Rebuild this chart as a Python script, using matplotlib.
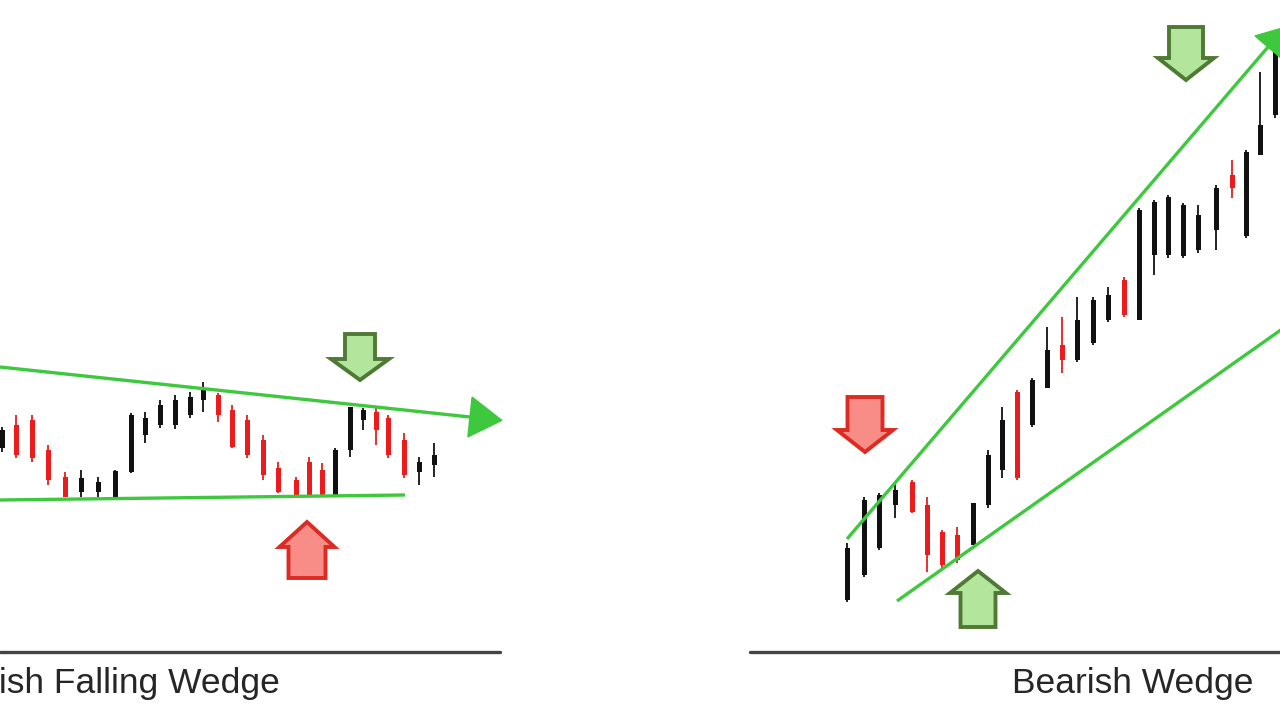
import matplotlib as mpl
mpl.use('Agg')

import numpy as np
import matplotlib.pyplot as plt
from matplotlib.patches import Polygon

# screen-like coordinates (y grows downwards), 1280 x 720 canvas

# left panel candles: x, wick top, wick bottom, body top, body bottom, colour
left_x = [2, 16, 32, 48, 65, 81, 98, 115, 131, 145, 160, 175, 190, 203, 218,
          232, 247, 263, 278, 296, 309, 322, 335, 350, 363, 376, 388, 404, 419, 434]
left_hi = [427, 415, 415, 445, 472, 470, 477, 470, 413, 412, 400, 395, 392, 382, 393,
           405, 415, 435, 462, 477, 457, 463, 448, 407, 408, 408, 415, 433, 457, 443]
left_lo = [452, 458, 462, 485, 497, 497, 497, 497, 473, 443, 428, 429, 418, 412, 422,
           448, 458, 480, 493, 497, 497, 497, 495, 457, 430, 445, 458, 478, 485, 477]
left_btop = [430, 425, 420, 450, 477, 478, 482, 471, 415, 418, 405, 400, 397, 390, 395,
             410, 420, 440, 468, 480, 462, 470, 450, 407, 410, 412, 418, 440, 462, 455]
left_bbot = [448, 455, 458, 480, 497, 492, 492, 497, 472, 435, 425, 425, 415, 400, 415,
             447, 455, 475, 492, 495, 495, 497, 495, 450, 420, 430, 455, 475, 472, 465]
left_col = list('krrrrkkkkkkkkkrrrrrrrrkkkrrrkk')

# right panel candles
right_x = [847, 864, 879, 895, 912, 927, 942, 957, 973, 988, 1002, 1017, 1032, 1047, 1062,
           1077, 1093, 1108, 1124, 1139, 1154, 1168, 1183, 1198, 1216, 1232, 1246, 1260, 1275]
right_hi = [543, 497, 493, 482, 480, 497, 530, 527, 503, 450, 407, 390, 378, 327, 317,
            297, 297, 287, 277, 208, 200, 195, 203, 205, 185, 160, 150, 72, 47]
right_lo = [602, 577, 550, 518, 513, 572, 570, 563, 545, 508, 478, 480, 427, 388, 373,
            362, 345, 322, 317, 320, 275, 258, 258, 253, 250, 198, 238, 155, 118]
right_btop = [548, 500, 495, 490, 482, 505, 532, 535, 503, 455, 420, 392, 380, 350, 345,
              320, 300, 295, 280, 210, 202, 197, 205, 215, 188, 175, 152, 125, 50]
right_bbot = [600, 575, 548, 505, 512, 555, 565, 560, 545, 505, 470, 478, 425, 388, 360,
              360, 343, 320, 315, 320, 255, 255, 256, 250, 230, 188, 236, 155, 115]
right_col = list('kkkkrrrrkkkrkkrkkkrkkkkkkrkkk')

# trend lines (start, end)
left_upper = [(0, 367), (470, 417)]
left_lower = [(0, 500), (405, 495)]
right_upper = [(847, 539), (1268, 47)]
right_lower = [(897, 601), (1285, 327)]

# signal arrows: centre x, tail y, tip y, shaft width, head width, head length, kind
arrows = [
    (360, 334, 380, 30, 58, 21, 'green'),
    (307, 578, 522, 37, 55, 25, 'red'),
    (865, 397, 452, 35, 56, 22, 'red'),
    (978, 627, 571, 35, 56, 22, 'green'),
    (1186, 27, 80, 34, 56, 22, 'green'),
]

titles = ['Bullish Falling Wedge', 'Bearish Wedge']

GREEN = '#3ec83e'
CANDLE = {'k': '#111111', 'r': '#ec1c1c'}
ARROW_STYLE = {'green': ('#b3e59c', '#4f7a35'), 'red': ('#f78d86', '#dd2a22')}


def draw_candles(ax, xs, hi, lo, btop, bbot, cols):
    for x, h, l, bt, bb, c in zip(xs, hi, lo, btop, bbot, cols):
        ax.vlines(x, h, l, color=CANDLE[c], lw=1.3)
        ax.bar(x, bb - bt, bottom=bt, width=5, color=CANDLE[c], lw=0)


def draw_arrow(ax, cx, tail, tip, shaft_w, head_w, head_len, kind):
    d = np.sign(tip - tail)
    base = tip - d * head_len
    pts = [(cx - shaft_w / 2, tail), (cx + shaft_w / 2, tail),
           (cx + shaft_w / 2, base), (cx + head_w / 2, base),
           (cx, tip), (cx - head_w / 2, base), (cx - shaft_w / 2, base)]
    fill, edge = ARROW_STYLE[kind]
    ax.add_patch(Polygon(pts, closed=True, facecolor=fill, edgecolor=edge,
                         lw=2.8, joinstyle='miter', zorder=5))


def trend(ax, seg, head=None):
    (x0, y0), (x1, y1) = seg
    ax.plot([x0, x1], [y0, y1], color=GREEN, lw=2.4, solid_capstyle='butt', zorder=4)
    if head:
        L, W = head
        v = np.array([x1 - x0, y1 - y0], float)
        v /= np.linalg.norm(v)
        n = np.array([-v[1], v[0]])
        p = np.array([x1, y1], float)
        tipp = p + v * L
        tri = [p + n * W / 2, tipp, p - n * W / 2]
        ax.add_patch(Polygon(tri, closed=True, facecolor=GREEN, edgecolor=GREEN,
                             lw=1, zorder=4))


fig = plt.figure(figsize=(12.8, 7.2), dpi=100)
ax = fig.add_axes([0, 0, 1, 1])
ax.set_xlim(0, 1280)
ax.set_ylim(720, 0)
ax.axis('off')

draw_candles(ax, left_x, left_hi, left_lo, left_btop, left_bbot, left_col)
draw_candles(ax, right_x, right_hi, right_lo, right_btop, right_bbot, right_col)

trend(ax, left_upper, head=(32, 40))
trend(ax, left_lower)
trend(ax, right_upper, head=(26, 34))
trend(ax, right_lower)

for a in arrows:
    draw_arrow(ax, *a)

# base lines and captions
ax.plot([0, 500], [652, 652], color='#444444', lw=2.4, solid_capstyle='round')
ax.plot([750, 1280], [652, 652], color='#444444', lw=2.4, solid_capstyle='round')

font = ['Liberation Sans Narrow', 'Liberation Sans', 'DejaVu Sans']
ax.text(280, 684, titles[0], ha='right', va='center', fontsize=25.5,
        color='#262626', family=font)
ax.text(1253, 684, titles[1], ha='right', va='center', fontsize=25.5,
        color='#262626', family=font)

plt.savefig('out.png', dpi=100, facecolor='white')
